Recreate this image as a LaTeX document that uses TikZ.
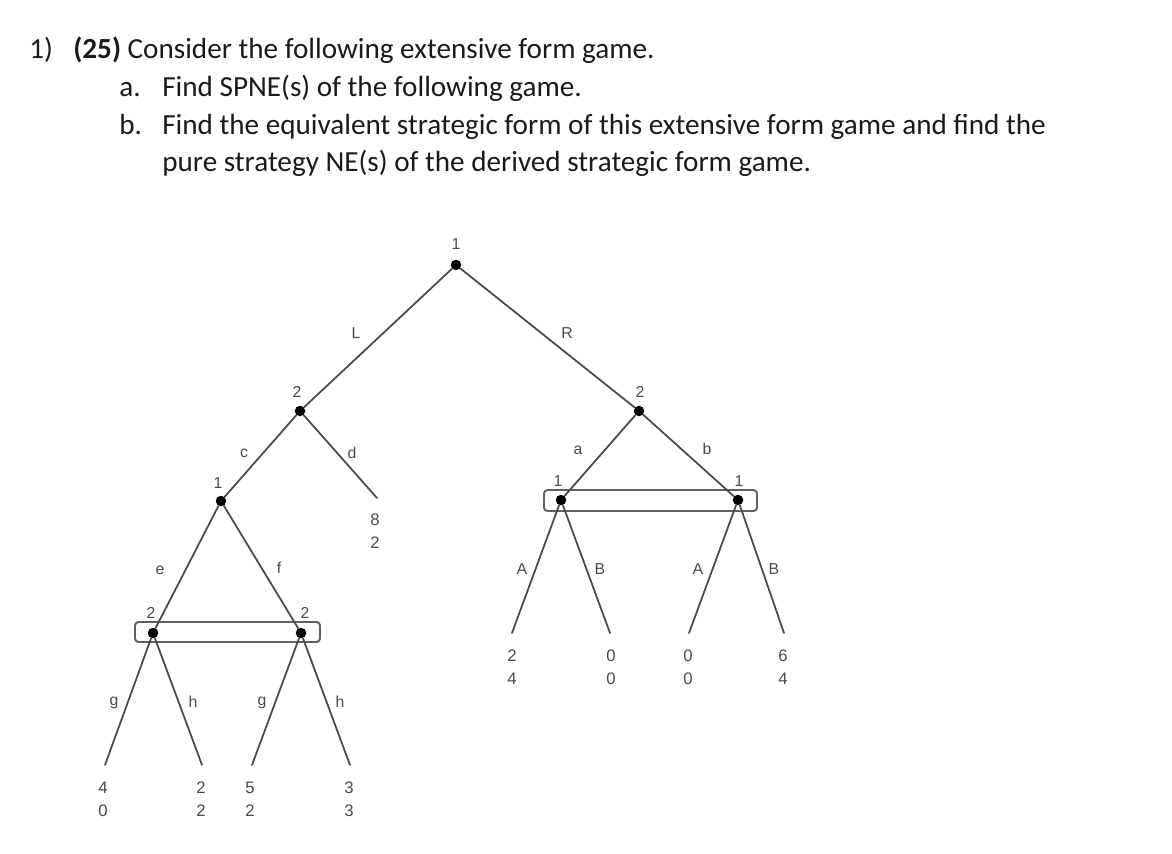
\documentclass[tikz,border=0pt]{standalone}
\usepackage{fontspec}
\setmainfont{Carlito}
\newfontfamily\treefont{Liberation Sans}
\usetikzlibrary{positioning}
\definecolor{TreeGray}{HTML}{4A4A4A}
\definecolor{SetGray}{HTML}{606060}
\definecolor{TaskInk}{HTML}{1A1A1A}

\begin{document}
\begin{tikzpicture}[x=0.02cm,y=-0.02cm,line cap=round,line join=round,
  dot/.style={circle,fill=black,inner sep=0pt,minimum size=0.21cm},
  branch/.style={TreeGray,line width=1pt},
  infoset/.style={SetGray,line width=1.1pt,rounded corners=2pt},
  lbl/.style={inner sep=0pt,text=TreeGray,font=\treefont\fontsize{9}{10}\selectfont},
  pay/.style={lbl,align=center,font=\treefont\fontsize{9.5}{13}\selectfont},
  task/.style={anchor=base west,inner sep=0pt,text=TaskInk,font=\fontsize{16.6}{20}\selectfont}]
  \useasboundingbox (0,0) rectangle (1172,854);
  % question text
  \node[task] (q0) at (29,59) {1)};
  \node[task] (q1) at (73,59) {\textbf{(25)} Consider the following extensive form game.};
  \node[task] (qa) at (119,97) {a.};\node[task] (qa1) at (162,97) {Find SPNE(s) of the following game.};
  \node[task] (qb) at (119,135) {b.};\node[task] (qb1) at (162,135) {Find the equivalent strategic form of this extensive form game and find the};
  \node[task] (qb2) at (162,172) {pure strategy NE(s) of the derived strategic form game.};
  % decision nodes
  \node[dot] (n0) at (456,265) {};\node[dot] (nL) at (300,411) {};\node[dot] (nR) at (639,411) {};
  \node[dot] (nC) at (221,501) {};\node[dot] (nE) at (153,633) {};\node[dot] (nF) at (301,633) {};
  \node[dot] (nA) at (561,500) {};\node[dot] (nB) at (738,500) {};
  \node[lbl] (p0) at (456,244) {1};\node[lbl] (pL) at (297,392) {2};\node[lbl] (pR) at (640,392) {2};
  \node[lbl] (pC) at (218,483) {1};\node[lbl] (pE) at (151,613) {2};\node[lbl] (pF) at (305,613) {2};
  \node[lbl] (pA) at (558,481) {1};\node[lbl] (pB) at (739,481) {1};
  % information sets
  \draw[infoset] (135,622) rectangle (320,642);
  \draw[infoset] (544,490) rectangle (757,511);
  % terminal ends
  \coordinate (tD) at (377,498);
  \coordinate (tEg) at (105,765);\coordinate (tEh) at (202,765);\coordinate (tFg) at (252,765);\coordinate (tFh) at (350,765);
  \coordinate (tAA) at (512,633);\coordinate (tAB) at (610,633);\coordinate (tBA) at (689,633);\coordinate (tBB) at (784,633);
  % branches
  \draw[branch] (n0)--(nL) (n0)--(nR) (nL)--(nC) (nL)--(tD) (nC)--(nE) (nC)--(nF);
  \draw[branch] (nE)--(tEg) (nE)--(tEh) (nF)--(tFg) (nF)--(tFh);
  \draw[branch] (nR)--(nA) (nR)--(nB) (nA)--(tAA) (nA)--(tAB) (nB)--(tBA) (nB)--(tBB);
  % actions
  \node[lbl] (aL) at (356,333) {L};\node[lbl] (aR) at (567,333) {R};
  \node[lbl] (ac) at (244,453) {c};\node[lbl] (ad) at (352,453) {d};
  \node[lbl] (aa) at (578,450) {a};\node[lbl] (ab) at (707,449) {b};
  \node[lbl] (ae) at (160,570) {e};\node[lbl] (af) at (279,568) {f};
  \node[lbl] (aEg) at (114,703) {g};\node[lbl] (aEh) at (193,702) {h};\node[lbl] (aFg) at (262,703) {g};\node[lbl] (aFh) at (340,702) {h};
  \node[lbl] (aAA) at (522,569) {A};\node[lbl] (aAB) at (600,569) {B};\node[lbl] (aBA) at (698,569) {A};\node[lbl] (aBB) at (774,569) {B};
  % payoffs
  \node[pay] (uD) at (375,531) {8\\2};
  \node[pay] (uEg) at (103,799) {4\\0};\node[pay] (uEh) at (201,799) {2\\2};\node[pay] (uFg) at (250,799) {5\\2};\node[pay] (uFh) at (349,799) {3\\3};
  \node[pay] (uAA) at (512,667) {2\\4};\node[pay] (uAB) at (611,667) {0\\0};\node[pay] (uBA) at (688,667) {0\\0};\node[pay] (uBB) at (783,667) {6\\4};
\end{tikzpicture}
\end{document}
